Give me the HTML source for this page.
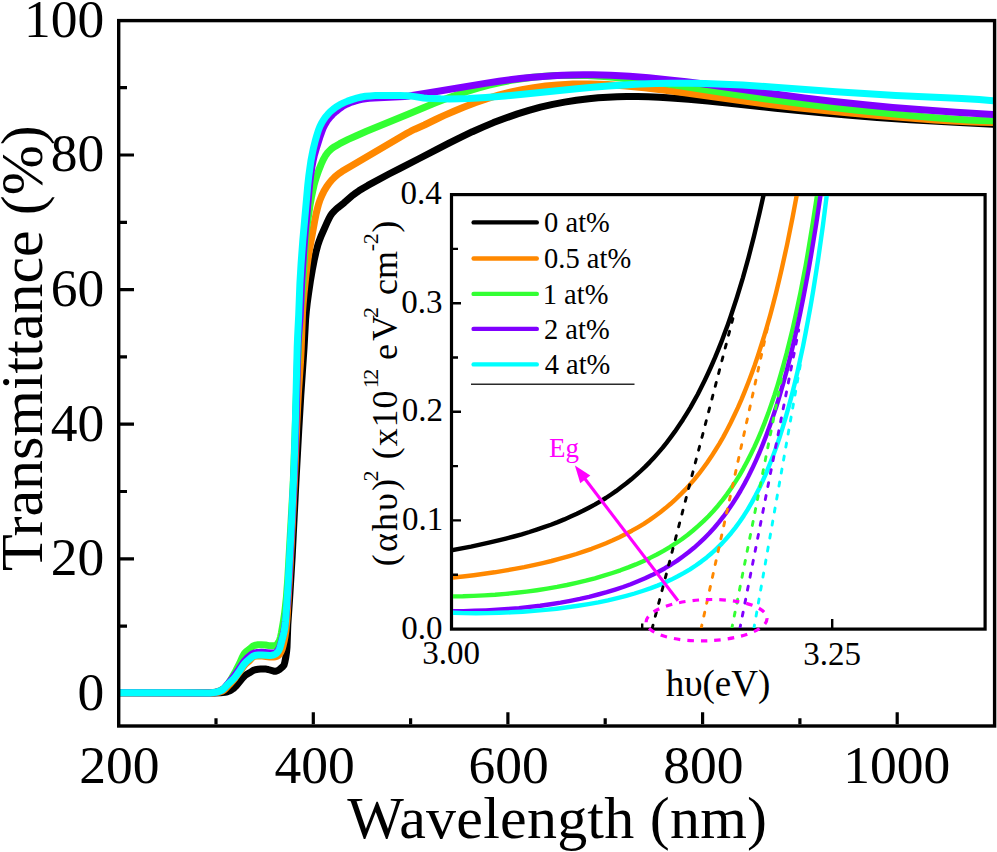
<!DOCTYPE html>
<html><head><meta charset="utf-8"><style>
html,body{margin:0;padding:0;background:#fff;}
body{width:997px;height:852px;overflow:hidden;font-family:"Liberation Serif",serif;}
svg{display:block;}
svg text{font-family:"Liberation Serif",serif;}
</style></head><body>
<svg width="997" height="852" viewBox="0 0 997 852">
<rect width="997" height="852" fill="#fff"/>
<defs><clipPath id="cm"><rect x="120" y="22" width="873" height="702"/></clipPath><clipPath id="ci"><rect x="453" y="196" width="531" height="432"/></clipPath></defs>
<path d="M120,693.4H134 M120,626.1H127 M120,558.8H134 M120,491.5H127 M120,424.2H134 M120,356.9H127 M120,289.6H134 M120,222.3H127 M120,155.0H134 M120,87.7H127 M216.0,724.3V718.3 M313.3,724.3V712.3 M410.6,724.3V718.3 M507.9,724.3V712.3 M605.2,724.3V718.3 M702.6,724.3V712.3 M799.9,724.3V718.3 M897.2,724.3V712.3" stroke="#000" stroke-width="3.2" fill="none"/>
<g clip-path="url(#cm)" fill="none" stroke-width="7" stroke-linejoin="round" stroke-linecap="round">
<path d="M119.5,692.8 182.0,692.8 214.5,692.9 220.5,692.7 225.0,692.2 227.4,691.7 229.3,691.0 231.1,690.1 233.2,688.7 234.3,687.8 235.7,686.4 242.8,677.8 244.5,676.0 246.1,674.8 249.5,672.8 252.5,670.8 253.3,670.4 255.2,669.7 258.1,669.2 260.6,669.0 264.6,669.0 266.1,669.1 268.1,669.5 273.9,671.2 274.9,671.3 275.8,671.2 277.3,670.7 278.1,670.3 279.0,669.8 282.9,666.5 283.5,665.8 284.0,665.1 284.3,664.2 284.7,662.7 285.8,657.2 286.6,651.8 287.0,647.3 287.8,624.8 289.7,596.9 292.2,556.0 293.3,534.0 295.9,482.0 298.7,431.1 300.8,395.2 304.0,348.3 305.6,319.3 306.3,311.4 307.2,303.4 308.4,294.5 310.4,281.1 312.2,270.3 314.1,260.5 316.1,251.6 317.9,244.9 319.5,240.2 321.1,236.0 327.0,222.7 329.1,218.2 330.6,215.6 332.0,213.6 333.6,211.7 335.7,209.6 337.9,207.7 344.2,202.7 352.8,195.2 355.6,193.1 358.9,190.8 363.1,188.2 367.9,185.4 389.0,174.0 400.1,168.3 419.3,158.5 437.9,148.8 448.5,143.3 461.1,137.1 472.4,131.7 483.4,126.9 493.5,122.6 505.7,118.0 517.5,113.9 528.9,110.4 540.5,107.2 552.7,104.4 564.5,102.1 576.3,100.2 588.7,98.7 598.2,97.8 607.7,97.2 617.2,96.8 626.7,96.6 637.7,96.6 648.2,96.8 659.2,97.2 671.1,97.9 688.6,99.2 708.0,100.9 727.4,102.9 775.6,108.2 798.5,110.6 824.4,113.1 849.8,115.3 877.2,117.4 910.1,119.7 955.1,122.3 994.0,124.4" stroke="#000000"/>
<path d="M119.5,692.8 181.5,692.8 209.5,692.9 212.0,692.8 215.5,692.5 218.5,692.2 220.5,691.8 222.3,691.2 223.9,690.1 225.4,688.8 229.7,684.4 232.7,681.0 235.5,677.5 239.1,672.7 242.9,667.4 244.4,665.4 246.1,663.6 249.9,660.3 252.0,657.9 253.1,656.9 253.9,656.5 254.7,656.3 256.6,656.1 259.2,656.0 262.2,656.1 269.7,657.0 273.7,657.0 275.7,656.8 276.6,656.5 277.5,656.0 278.3,655.5 279.1,654.8 280.3,653.3 281.4,651.0 282.3,648.7 283.2,645.3 284.3,640.4 285.2,635.5 285.8,631.5 286.2,628.0 287.1,617.6 290.0,568.1 292.3,524.2 294.7,475.7 296.8,424.8 297.8,404.3 298.5,391.3 300.5,361.9 301.2,348.9 302.2,321.4 302.5,312.9 303.1,304.4 304.0,294.0 305.6,278.1 306.9,267.1 307.9,259.7 309.1,251.8 314.7,220.8 316.1,213.9 317.4,208.6 318.6,204.2 320.0,200.0 321.9,195.4 324.1,190.9 326.7,186.6 329.3,183.0 332.2,179.6 335.0,176.8 338.5,173.9 342.2,171.3 345.6,169.2 351.2,165.9 406.5,133.6 410.8,131.2 414.9,129.2 424.4,125.0 435.6,119.5 443.8,115.6 453.9,111.2 463.5,107.2 475.2,102.7 487.1,98.6 498.5,95.2 504.3,93.6 510.2,92.2 516.0,90.9 521.9,89.7 527.8,88.6 533.7,87.6 545.6,86.0 557.6,84.9 565.5,84.4 573.0,84.1 581.5,84.0 590.5,84.0 599.0,84.2 607.5,84.6 616.5,85.2 626.0,85.9 644.4,87.7 665.2,90.2 684.6,92.8 738.5,100.4 767.8,104.2 795.1,107.5 824.4,110.6 849.8,113.0 877.7,115.4 909.6,118.0 934.6,119.9 952.5,121.1 968.0,121.8 980.5,122.2 994.0,122.4" stroke="#ff8800"/>
<path d="M119.5,692.8 209.5,692.9 211.5,692.8 213.5,692.5 216.4,691.9 218.4,691.3 221.1,690.1 222.4,689.4 223.6,688.6 224.8,687.6 226.2,686.1 227.5,684.6 228.7,683.1 231.1,679.2 236.0,670.4 239.6,663.3 242.3,657.2 243.5,655.0 244.8,653.0 245.4,652.3 246.5,651.3 249.8,648.9 252.9,646.2 254.1,645.6 255.5,645.2 258.0,644.8 261.0,644.7 265.5,645.0 268.9,645.6 270.4,645.8 274.0,645.8 275.3,645.5 276.6,644.8 277.6,643.7 278.7,642.0 279.6,640.2 280.6,636.8 281.4,632.9 283.2,622.5 284.5,614.1 285.5,605.7 286.4,597.2 287.0,589.3 287.8,578.8 292.4,497.9 293.3,480.9 294.1,458.9 295.8,411.4 296.9,382.0 297.9,358.5 298.8,340.0 300.2,316.0 302.7,285.6 304.9,248.7 305.6,239.7 306.4,231.8 307.3,223.8 308.6,214.9 310.0,205.5 311.4,197.6 312.7,191.2 314.0,185.4 315.3,180.6 316.8,175.8 318.8,170.1 321.2,164.1 323.3,159.5 325.2,156.1 327.2,153.2 329.2,151.0 331.7,148.7 334.5,146.7 336.7,145.4 339.7,143.7 348.2,139.4 356.4,135.7 366.5,131.3 408.6,114.1 424.7,107.2 434.9,103.1 443.3,99.8 451.3,96.8 458.8,94.2 466.4,91.7 477.9,88.2 489.0,85.2 500.2,82.6 511.0,80.4 521.8,78.7 533.3,77.2 544.7,76.2 556.2,75.6 563.7,75.4 572.2,75.3 580.2,75.4 587.7,75.6 595.7,76.0 604.2,76.6 613.1,77.3 622.1,78.2 641.0,80.3 662.8,83.3 683.0,86.4 738.9,95.1 768.6,99.4 798.8,103.4 829.1,107.1 857.4,110.2 884.8,113.0 912.7,115.7 935.6,117.7 952.5,119.0 968.0,120.0 981.0,120.5 994.0,120.8" stroke="#33ff33"/>
<path d="M119.5,692.8 209.5,692.9 211.5,692.8 213.0,692.6 215.5,692.2 217.9,691.6 219.9,691.0 221.6,690.2 223.2,689.1 224.6,687.7 230.8,680.3 234.4,675.5 239.1,669.0 242.9,663.1 244.7,660.7 246.0,659.2 247.4,657.8 251.7,654.3 253.0,653.5 254.3,653.0 256.3,652.6 258.8,652.4 261.3,652.3 264.8,652.4 269.8,653.0 272.3,653.1 273.8,653.1 274.7,653.0 275.6,652.7 276.0,652.5 276.7,651.8 277.4,651.0 278.8,648.9 279.8,646.6 280.9,643.3 283.0,635.1 284.0,630.7 284.7,626.7 285.7,619.3 286.5,611.3 287.4,601.9 288.1,591.4 288.9,578.4 292.6,507.0 294.1,475.0 295.2,446.5 296.1,416.6 296.7,394.1 297.5,358.6 298.0,343.6 298.5,336.6 299.7,322.6 300.2,315.7 301.7,281.2 302.6,267.2 303.8,249.8 305.1,233.3 307.4,208.9 309.2,188.5 310.0,180.5 310.9,173.6 311.9,167.2 313.0,161.3 314.2,155.9 316.1,149.2 319.7,137.7 321.5,132.5 323.1,128.3 324.6,125.2 326.4,122.2 328.0,119.7 330.2,117.0 332.6,114.5 336.0,111.5 339.5,108.6 342.3,106.6 344.4,105.3 346.6,104.2 348.9,103.2 351.7,102.1 355.0,101.1 358.4,100.2 361.8,99.4 365.3,98.8 369.2,98.3 373.7,97.9 399.7,96.8 404.7,96.4 409.1,95.9 438.3,91.3 485.1,83.4 499.0,81.3 511.8,79.5 522.3,78.3 532.7,77.2 542.7,76.4 552.7,75.7 562.6,75.2 572.6,74.9 583.1,74.8 593.1,74.8 602.1,75.0 610.6,75.2 620.1,75.7 629.6,76.3 648.6,77.8 669.4,79.9 686.3,81.8 705.7,84.3 776.5,94.2 804.3,97.9 834.0,101.5 864.9,104.8 892.7,107.4 922.2,109.8 956.1,112.2 994.0,114.5" stroke="#8000ff"/>
<path d="M119.5,692.8 181.5,692.8 209.5,692.9 213.5,692.6 215.5,692.3 217.5,691.9 220.3,690.9 221.6,690.3 222.8,689.5 224.3,688.2 227.8,684.4 232.5,680.0 234.5,677.8 237.0,674.6 239.9,670.5 243.2,665.4 244.7,663.5 246.7,661.4 252.6,656.5 253.4,656.0 254.7,655.5 256.2,655.2 258.2,655.0 260.2,654.9 262.2,655.0 269.7,655.5 271.2,655.4 273.2,655.0 274.6,654.5 275.5,654.0 276.3,653.5 277.0,652.8 277.7,652.1 278.5,650.9 279.2,649.5 279.8,648.2 280.8,644.8 283.2,635.6 284.1,631.7 284.8,627.7 285.5,621.3 286.1,614.3 288.0,585.4 291.9,514.9 293.5,480.0 294.5,453.0 295.4,421.0 297.2,347.0 297.6,337.0 298.7,315.0 299.9,283.5 301.1,263.1 302.8,240.6 307.8,184.8 308.8,175.9 309.9,168.0 310.9,161.0 312.1,154.6 313.5,147.8 315.2,141.0 317.0,134.7 318.5,130.0 320.0,126.3 321.6,123.1 323.3,120.2 325.3,117.3 327.9,114.2 330.3,111.7 333.3,109.1 336.1,107.0 339.5,104.9 343.5,102.9 347.6,101.1 351.9,99.6 356.7,98.2 361.5,97.0 365.5,96.3 369.9,95.9 375.4,95.6 383.9,95.5 393.4,95.4 400.5,95.5 406.1,95.7 411.1,96.1 415.0,96.6 423.6,98.0 427.0,98.3 431.6,98.5 440.6,98.8 449.6,98.9 459.1,98.8 468.6,98.5 485.6,97.5 505.0,96.0 522.9,94.3 576.7,88.7 592.6,87.3 608.0,86.0 624.0,85.0 640.0,84.1 655.5,83.6 671.0,83.3 688.0,83.3 705.0,83.6 723.5,84.2 742.5,85.1 771.4,86.9 835.8,91.7 864.2,93.6 895.7,95.4 946.1,97.7 961.6,98.5 979.1,99.6 994.0,100.9" stroke="#00ffff"/>
</g>
<rect x="118.7" y="20.6" width="875.9" height="705.4" fill="none" stroke="#000" stroke-width="3.4"/>
<rect x="451.5" y="194.6" width="533.6" height="434.5" fill="#fff" stroke="#000" stroke-width="3.2"/>
<g clip-path="url(#ci)" fill="none" stroke-width="4.4" stroke-linecap="round" stroke-linejoin="round">
<path d="M452.0,550.2 471.0,546.6 488.9,542.7 497.5,540.7 505.8,538.6 513.9,536.5 521.8,534.3 529.4,532.0 536.7,529.6 543.9,527.2 550.9,524.7 557.7,522.1 564.3,519.4 570.7,516.6 576.9,513.8 583.0,510.8 588.9,507.7 594.7,504.6 600.3,501.3 605.8,498.0 611.1,494.5 616.3,490.9 621.4,487.1 626.4,483.3 631.3,479.3 636.1,475.2 640.7,471.0 645.3,466.6 649.8,462.1 654.1,457.4 658.4,452.6 662.7,447.6 666.9,442.3 671.0,436.9 675.0,431.4 679.0,425.6 682.9,419.7 686.7,413.6 690.5,407.3 694.1,400.9 697.8,394.2 701.3,387.3 704.8,380.2 708.2,373.0 711.6,365.5 715.0,357.7 718.2,349.8 721.5,341.7 724.6,333.3 727.8,324.7 730.9,315.8 736.9,297.5 742.8,278.1 748.5,257.6 754.0,236.1 759.4,213.6 764.7,190.0" stroke="#000000"/>
<path d="M452.0,577.6 462.9,576.5 473.7,575.2 484.2,573.8 494.6,572.3 504.7,570.6 514.6,568.9 524.2,567.1 533.6,565.1 542.7,563.1 551.5,561.0 560.1,558.7 568.4,556.4 576.4,554.0 584.2,551.4 591.7,548.8 599.0,546.0 606.0,543.2 612.8,540.3 619.4,537.2 625.7,534.0 631.9,530.7 637.9,527.3 643.8,523.8 649.4,520.1 654.9,516.2 660.3,512.2 665.5,508.1 670.6,503.8 675.5,499.3 680.3,494.7 685.0,489.9 689.6,484.9 694.2,479.6 698.6,474.2 702.9,468.5 707.1,462.7 711.3,456.6 715.3,450.3 719.3,443.8 723.2,437.1 727.0,430.0 730.7,422.8 734.3,415.3 737.9,407.6 741.4,399.6 744.8,391.3 748.2,382.8 751.5,374.0 754.8,364.9 758.0,355.4 761.1,345.8 764.2,335.8 767.3,325.4 770.3,314.8 773.2,303.9 776.1,292.6 778.9,281.0 781.7,269.1 787.2,244.1 792.5,217.8 797.7,190.0" stroke="#ff8800"/>
<path d="M452.0,596.4 462.8,596.3 473.6,595.9 484.4,595.4 495.1,594.8 505.7,593.9 516.2,592.8 526.6,591.6 536.9,590.2 547.1,588.6 557.1,586.9 566.9,585.0 576.5,582.9 585.8,580.7 594.9,578.3 603.8,575.7 612.4,573.0 620.4,570.3 628.3,567.4 635.8,564.4 643.1,561.2 650.1,557.9 656.9,554.5 663.5,550.9 669.8,547.1 675.9,543.2 681.8,539.2 687.5,535.0 693.0,530.5 698.3,525.9 703.5,521.1 708.5,516.2 713.4,511.0 718.0,505.7 722.5,500.1 726.9,494.3 731.1,488.3 735.2,482.1 739.3,475.6 743.2,468.8 747.0,461.8 750.7,454.5 754.4,446.9 757.9,439.1 761.4,430.9 764.8,422.4 768.1,413.6 771.3,404.4 774.5,395.0 777.6,385.1 780.6,374.9 783.6,364.4 786.6,353.4 789.4,342.1 792.3,330.4 795.0,318.3 797.7,305.8 800.4,292.9 803.0,279.5 805.6,265.8 808.1,251.5 813.0,221.7 817.8,190.1" stroke="#33ff33"/>
<path d="M452.0,611.2 463.4,611.1 474.7,610.8 486.0,610.4 497.1,609.8 508.1,609.0 519.0,608.1 529.7,606.9 540.2,605.7 550.5,604.2 560.6,602.6 570.3,600.8 579.9,598.9 589.1,596.8 598.1,594.5 606.8,592.2 615.2,589.6 623.1,587.0 630.7,584.2 638.0,581.3 645.1,578.3 652.0,575.1 658.6,571.7 665.0,568.2 671.2,564.5 677.2,560.6 682.9,556.5 688.5,552.3 694.0,547.8 699.2,543.2 704.3,538.3 709.3,533.3 714.1,528.0 718.8,522.4 723.3,516.7 727.8,510.6 732.1,504.3 736.3,497.8 740.4,491.0 744.4,483.9 748.3,476.5 752.1,468.8 755.8,460.8 759.5,452.5 763.0,443.9 766.5,434.9 769.9,425.6 773.2,415.9 776.5,406.0 779.7,395.6 782.8,384.8 785.9,373.6 788.9,362.1 791.9,350.1 794.8,337.8 797.7,325.0 800.5,311.8 803.2,298.2 805.9,284.1 808.6,269.7 811.2,254.7 816.3,223.3 821.3,190.0" stroke="#8000ff"/>
<path d="M452.0,612.8 463.9,613.1 475.9,613.2 487.7,613.1 499.5,612.8 511.2,612.3 522.7,611.7 534.2,610.9 545.5,609.9 556.6,608.7 567.4,607.3 578.0,605.8 588.4,604.1 598.3,602.3 608.0,600.3 617.3,598.1 626.3,595.8 634.6,593.5 642.5,591.0 650.2,588.4 657.5,585.6 664.5,582.7 671.3,579.6 677.8,576.3 684.0,572.9 690.0,569.3 695.8,565.5 701.3,561.6 706.7,557.4 711.9,553.0 716.9,548.4 721.8,543.6 726.4,538.5 731.0,533.2 735.4,527.6 739.7,521.8 743.8,515.7 747.8,509.3 751.7,502.6 755.5,495.6 759.3,488.2 762.9,480.5 766.4,472.6 769.8,464.2 773.2,455.5 776.5,446.5 779.7,437.0 782.8,427.1 785.8,417.0 788.8,406.3 791.8,395.1 794.7,383.6 797.5,371.7 800.2,359.3 803.0,346.4 805.6,333.0 808.2,319.2 810.8,304.9 813.3,290.1 815.7,274.8 818.2,258.9 822.9,225.6 827.4,190.2" stroke="#00ffff"/>
</g>
<g clip-path="url(#ci)" fill="none" stroke-width="2.9" stroke-dasharray="4 9.2" stroke-linecap="round">
<path d="M652,629L734.6,312" stroke="#000000"/>
<path d="M701,629L770.5,314" stroke="#ff8800"/>
<path d="M731.7,629L786.2,355" stroke="#33ff33"/>
<path d="M739.8,629L798.7,330" stroke="#8000ff"/>
<path d="M753.8,629L800.8,362" stroke="#00ffff"/>
</g>
<path d="M453,574.7H458 M453,520.4H461 M453,466.1H458 M453,411.8H461 M453,357.5H458 M453,303.2H461 M453,248.9H458 M642.2,628V623.5 M832.2,628V619" stroke="#000" stroke-width="2.4" fill="none"/>
<path d="M473.6,222.4H536.8" stroke="#000000" stroke-width="4.4" stroke-linecap="round"/>
<path d="M473.6,258.5H536.8" stroke="#ff8800" stroke-width="4.4" stroke-linecap="round"/>
<path d="M473.6,293.9H536.8" stroke="#33ff33" stroke-width="4.4" stroke-linecap="round"/>
<path d="M473.6,328.9H536.8" stroke="#8000ff" stroke-width="4.4" stroke-linecap="round"/>
<path d="M473.6,364.4H536.8" stroke="#00ffff" stroke-width="4.4" stroke-linecap="round"/>
<text x="544.11" y="232.20" font-size="28.5">0 at%</text>
<text x="544.11" y="268.30" font-size="28.5">0.5 at%</text>
<text x="542.70" y="303.70" font-size="28.5">1 at%</text>
<text x="543.95" y="338.70" font-size="28.5">2 at%</text>
<text x="544.64" y="374.20" font-size="28.5">4 at%</text>
<path d="M471,384.3H634.5" stroke="#2a2a2a" stroke-width="1.6"/>
<ellipse cx="706.6" cy="620.2" rx="60.5" ry="20.6" transform="rotate(-2 706.6 620.2)" fill="none" stroke="#ff00ff" stroke-width="3.2" stroke-dasharray="6.5 7"/>
<path d="M678,600.8L584.5,478.3" stroke="#ff00ff" stroke-width="3.1"/>
<path d="M574.9,465.6L580.25,483.15L590.35,475.45Z" fill="#ff00ff"/>
<text x="549.12" y="456.60" font-size="27" fill="#ff00ff">Eg</text>
<g fill="#000">
<text x="77.59" y="709.70" font-size="53.5">0</text>
<text x="50.84" y="575.10" font-size="53.5">20</text>
<text x="50.84" y="440.50" font-size="53.5">40</text>
<text x="50.84" y="305.90" font-size="53.5">60</text>
<text x="50.84" y="171.30" font-size="53.5">80</text>
<text x="24.09" y="36.70" font-size="53.5">100</text>
<text x="79.22" y="783.10" font-size="53.5">200</text>
<text x="274.49" y="783.10" font-size="53.5">400</text>
<text x="468.48" y="783.10" font-size="53.5">600</text>
<text x="663.24" y="783.10" font-size="53.5">800</text>
<text x="843.15" y="783.10" font-size="53.5">1000</text>
<text x="347.14" y="838.3" font-size="60" textLength="419.9" lengthAdjust="spacing">Wavelength (nm)</text>
<text transform="translate(42.3,0) rotate(-90)" x="-571.08" y="0" font-size="60" textLength="445.7" lengthAdjust="spacing">Transmittance (%)</text>
<text x="401.21" y="638.50" font-size="33">0.0</text>
<text x="401.93" y="529.90" font-size="33">0.1</text>
<text x="401.77" y="421.30" font-size="33">0.2</text>
<text x="401.24" y="312.70" font-size="33">0.3</text>
<text x="400.47" y="204.10" font-size="33">0.4</text>
<text x="422.16" y="664.00" font-size="33">3.00</text>
<text x="803.28" y="664.50" font-size="33">3.25</text>
<text x="665.64" y="696.10" font-size="37">hυ(eV)</text>
<g transform="translate(396.7,0) rotate(-90)">
<text x="-566.18" y="0" font-size="36" textLength="87.2" lengthAdjust="spacing">(αhυ)</text>
<text x="-481.47" y="-18.7" font-size="22">2</text>
<text x="-459.18" y="0" font-size="36" textLength="68.6" lengthAdjust="spacing">(x10</text>
<text x="-388.23" y="-18.7" font-size="22" textLength="19.5" lengthAdjust="spacing">12</text>
<text x="-359.91" y="0" font-size="36" textLength="45.0" lengthAdjust="spacing">eV</text>
<text x="-318.07" y="-18.7" font-size="22">2</text>
<text x="-294.97" y="0" font-size="36" textLength="44.1" lengthAdjust="spacing">cm</text>
<text x="-251.22" y="-18.7" font-size="22" textLength="18.0" lengthAdjust="spacing">-2</text>
<text x="-232.76" y="0" font-size="36">)</text>
</g>
</g>
</svg>
</body></html>
